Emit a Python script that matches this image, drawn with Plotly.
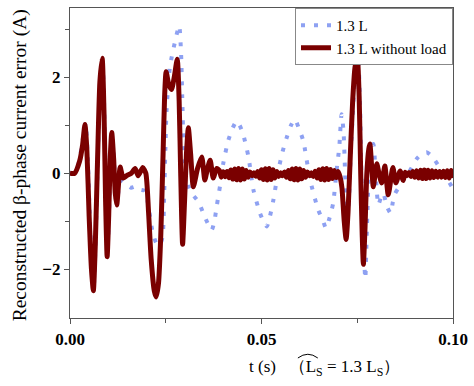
import plotly.graph_objects as go

# ---- data ----
t_13L = [0.0000, 0.0015, 0.0025, 0.0033, 0.0041, 0.0046, 0.0052, 0.0057, 0.0062, 0.0067,
         0.0073, 0.0079, 0.0085, 0.0090, 0.0094, 0.0098, 0.0102, 0.0106, 0.0110, 0.0115,
         0.0119, 0.0123, 0.0128, 0.0133, 0.0140, 0.0150, 0.0160, 0.0170, 0.0183, 0.0196,
         0.0205, 0.0215, 0.0225, 0.0235, 0.0242, 0.0246, 0.0249, 0.0252, 0.0261, 0.0274,
         0.0285, 0.0290, 0.0293, 0.0296, 0.0300, 0.0308, 0.0318, 0.0335, 0.0348, 0.0360,
         0.0370, 0.0377, 0.0383, 0.0392, 0.0400, 0.0413, 0.0425, 0.0435, 0.0443, 0.0452,
         0.0466, 0.0479, 0.0496, 0.0506, 0.0514, 0.0522, 0.0531, 0.0544, 0.0555, 0.0566,
         0.0577, 0.0587, 0.0597, 0.0609, 0.0627, 0.0648, 0.0661, 0.0668, 0.0677, 0.0687,
         0.0696, 0.0703, 0.0709, 0.0714, 0.0718, 0.0722, 0.0727, 0.0733, 0.0740, 0.0746,
         0.0752, 0.0757, 0.0762, 0.0767, 0.0771, 0.0775, 0.0780, 0.0786, 0.0792, 0.0798,
         0.0805, 0.0812, 0.0818, 0.0828, 0.0837, 0.0843, 0.0849, 0.0860, 0.0870, 0.0888,
         0.0905, 0.0918, 0.0931, 0.0942, 0.0953, 0.0965, 0.0975, 0.0987, 0.0997]
y_13L = [0.00, 0.02, 0.30, 0.70, 1.05, 0.40, -1.00, -2.00, -2.35, -1.40,
         0.40, 1.90, 2.30, 1.10, -0.60, -1.65, -0.85, 0.30, 0.80, 0.25,
         -0.40, -0.55, -0.30, -0.15, -0.20, -0.25, -0.30, -0.28, -0.34, -0.37,
         -0.70, -1.20, -1.45, -1.50, -1.30, -0.40, 0.50, 1.30, 2.23, 2.74,
         3.08, 2.50, 1.60, 0.70, 0.10, -0.25, -0.42, -0.59, -0.83, -1.05,
         -1.18, -1.00, -0.69, -0.25, 0.20, 0.68, 0.95, 1.09, 1.00, 0.82,
         0.34, -0.35, -0.83, -1.02, -1.11, -0.90, -0.56, 0.06, 0.45, 0.75,
         1.00, 1.13, 0.95, 0.68, -0.14, -0.76, -1.00, -1.14, -0.95, -0.63,
         0.06, 0.54, 1.23, 0.90, 0.06, -0.90, -0.70, 0.40, 1.50, 2.20,
         2.45, 1.50, -0.50, -1.60, -2.20, -1.20, -0.07, 0.50, 0.61, 0.00,
         -0.66, -0.50, -0.42, -0.70, -0.83, -0.60, -0.42, -0.28, -0.14, 0.06,
         0.30, 0.40, 0.44, 0.38, 0.27, 0.12, 0.00, -0.15, -0.28]

t_noload = [0.0000, 0.0012, 0.0025, 0.0033, 0.0039, 0.0044, 0.0050, 0.0056, 0.0061, 0.0066,
            0.0072, 0.0078, 0.0084, 0.0089, 0.0093, 0.0097, 0.0101, 0.0105, 0.0109, 0.0114,
            0.0118, 0.0122, 0.0127, 0.0131, 0.0139, 0.0148, 0.0160, 0.0170, 0.0178, 0.0190,
            0.0198, 0.0205, 0.0212, 0.0220, 0.0225, 0.0231, 0.0237, 0.0243, 0.0247, 0.0251,
            0.0258, 0.0265, 0.0272, 0.0280, 0.0285, 0.0289, 0.0294, 0.0299, 0.0304, 0.0309,
            0.0315, 0.0322, 0.0333, 0.0344, 0.0352, 0.0359, 0.0366, 0.0374, 0.0383,
            0.0390, 0.0395, 0.0400, 0.0405, 0.0410, 0.0415, 0.0420, 0.0425, 0.0430, 0.0435,
            0.0440, 0.0445, 0.0450, 0.0455, 0.0460, 0.0465, 0.0470, 0.0475, 0.0480, 0.0485,
            0.0490, 0.0495, 0.0500, 0.0505, 0.0510, 0.0515, 0.0520, 0.0525, 0.0530, 0.0535,
            0.0540, 0.0545, 0.0550, 0.0555, 0.0560, 0.0565, 0.0570, 0.0575, 0.0580, 0.0585,
            0.0590, 0.0595, 0.0600, 0.0605, 0.0610, 0.0615, 0.0620, 0.0625, 0.0630, 0.0635,
            0.0640, 0.0645, 0.0650, 0.0655, 0.0660, 0.0665, 0.0670, 0.0675, 0.0680, 0.0685,
            0.0690, 0.0695, 0.0700, 0.0705,
            0.0710, 0.0716, 0.0721, 0.0726, 0.0732, 0.0738, 0.0744, 0.0750, 0.0755, 0.0759,
            0.0763, 0.0766, 0.0770, 0.0775, 0.0780, 0.0783, 0.0788, 0.0792, 0.0801, 0.0808,
            0.0814, 0.0822, 0.0831, 0.0843, 0.0851, 0.0862, 0.0870,
            0.0875, 0.0880, 0.0885, 0.0890, 0.0895, 0.0900, 0.0905, 0.0910, 0.0915, 0.0920,
            0.0925, 0.0930, 0.0935, 0.0940, 0.0945, 0.0950, 0.0955, 0.0960, 0.0965, 0.0970,
            0.0975, 0.0980, 0.0985, 0.0990, 0.0995, 0.1000]
y_noload = [0.00, 0.00, 0.25, 0.60, 1.02, 0.50, -0.90, -2.00, -2.45, -1.50,
            0.30, 1.90, 2.40, 1.20, -0.60, -1.74, -0.90, 0.30, 0.85, 0.30,
            -0.40, -0.66, -0.20, 0.13, -0.10, -0.05, 0.00, 0.10, -0.05, 0.12,
            0.00, -0.80, -1.80, -2.45, -2.58, -2.30, -1.30, 0.40, 1.60, 2.12,
            1.85, 1.75, 2.00, 2.38, 1.50, 0.00, -1.48, -0.60, 0.40, 0.95,
            0.40, -0.28, 0.10, 0.34, -0.14, 0.10, 0.27, -0.10, 0.10,
            0.06, -0.08, 0.03, -0.07, 0.04, -0.095, 0.07, -0.12, 0.09, -0.135,
            0.10, -0.14, 0.09, -0.12, 0.06, -0.08, 0.025, -0.05, 0.01, -0.06,
            0.04, -0.10, 0.075, -0.13, 0.095, -0.14, 0.10, -0.13, 0.075, -0.10,
            0.04, -0.065, 0.01, -0.05, 0.025, -0.085, 0.06, -0.115, 0.09, -0.135,
            0.10, -0.14, 0.09, -0.115, 0.06, -0.085, 0.025, -0.05, 0.01, -0.065,
            0.045, -0.10, 0.075, -0.13, 0.095, -0.14, 0.10, -0.13, 0.08, -0.11,
            0.06, -0.09, 0.04, -0.07,
            -0.30, -1.00, -1.38, -0.80, 0.40, 1.50, 2.20, 2.43, 1.60, 0.00,
            -1.30, -1.90, -1.20, 0.00, 0.50, 0.61, 0.10, -0.28, 0.20, -0.05,
            -0.20, 0.15, -0.45, 0.12, -0.20, 0.05, -0.15,
            0.02, -0.05, 0.015, -0.065, 0.035, -0.085, 0.055, -0.10, 0.065, -0.11,
            0.07, -0.11, 0.065, -0.10, 0.055, -0.09, 0.045, -0.08, 0.04, -0.08,
            0.045, -0.09, 0.055, -0.10, 0.06, -0.10]

x_ticks = [0.00, 0.05, 0.10]
x_ticklabels = ["0.00", "0.05", "0.10"]
y_ticks = [-2, 0, 2]
y_ticklabels = ["\u22122", "0", "2"]

SERIF = "Liberation Serif, Times New Roman, serif"

fig = go.Figure()
fig.add_trace(go.Scatter(
    x=t_13L, y=y_13L, mode="lines", name="1.3 L",
    line=dict(color="#8ea1f2", width=4, dash="4px,9px", shape="spline", smoothing=0.6),
))
fig.add_trace(go.Scatter(
    x=t_noload, y=y_noload, mode="lines", name="1.3 L without load",
    line=dict(color="#7a0000", width=5, shape="spline", smoothing=0.6),
))

axis_common = dict(
    showline=True, linecolor="#555555", linewidth=1.2, mirror=True,
    ticks="outside", ticklen=5, tickwidth=1, tickcolor="#555555",
    showgrid=False, zeroline=False, automargin=False,
    tickfont=dict(family=SERIF, size=17, color="black", weight="bold"),
)

fig.update_layout(
    width=474, height=386,
    margin=dict(l=70, r=21, t=8, b=68, autoexpand=False),
    paper_bgcolor="white", plot_bgcolor="white",
    showlegend=True,
    legend=dict(
        x=1, y=1, xanchor="right", yanchor="top",
        bgcolor="white", bordercolor="#888888", borderwidth=1,
        font=dict(family=SERIF, size=15, color="black"),
        tracegroupgap=0,
    ),
    xaxis=dict(range=[0, 0.1], tickvals=x_ticks, ticktext=x_ticklabels,
               minor=dict(tickvals=[0.025, 0.075], ticklen=4, ticks="outside", tickcolor="#555555"),
               **axis_common),
    yaxis=dict(range=[-3.02, 3.45], tickvals=y_ticks, ticktext=y_ticklabels,
               minor=dict(tickvals=[-1, 1, 3], ticklen=4, ticks="outside", tickcolor="#555555"),
               **axis_common),
)

fig.add_annotation(
    text="Reconstructed \u03b2-phase current error (A)",
    xref="paper", yref="paper", x=-0.132, y=0.494, textangle=-90,
    showarrow=False, xanchor="center", yanchor="middle",
    font=dict(family=SERIF, size=19.5, color="black"),
)
fig.add_annotation(
    text="t (s)&nbsp;&nbsp;&nbsp;\uff08L<sub>S</sub> = 1.3 L<sub>S</sub>\uff09",
    xref="paper", yref="paper", x=0.462, y=-0.161,
    showarrow=False, xanchor="left", yanchor="middle",
    font=dict(family=SERIF, size=17, color="black"),
)
fig.add_shape(type="path", xref="paper", yref="paper",
              path="M 0.595,-0.129 Q 0.621,-0.105 0.647,-0.129",
              line=dict(color="black", width=1))

fig.write_html("out.html", config={"displayModeBar": False},
               post_script="document.body.style.margin='0';")
